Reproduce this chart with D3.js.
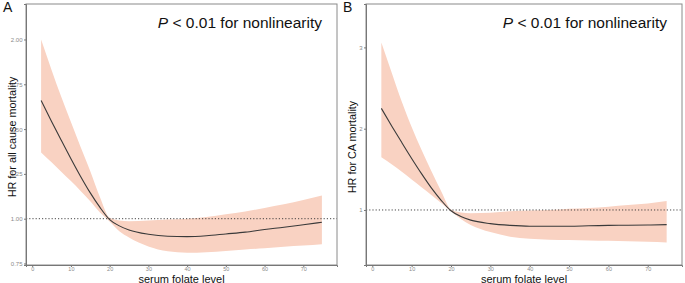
<!DOCTYPE html>
<html>
  <head>
    <meta charset="UTF-8" />
    <script src="https://d3js.org/d3.v7.min.js"></script>
    <style>
      body { margin: 0; background: #fff; }
      text { font-family: "Liberation Sans", Arial, sans-serif; }
    </style>
  </head>
  <body>
    <div id="my_dataviz"></div>

    <script>
      // serum folate level where the spline was sampled
      const folate = [2.3, 5, 7.5, 10, 12.5, 15, 17.5, 20, 22.5, 25, 30, 35, 40, 45, 50, 55, 60, 65, 70, 74.8];

      // panel A: all cause mortality
      const hrAll = [1.66, 1.543, 1.438, 1.335, 1.236, 1.144, 1.063, 0.995, 0.96, 0.937, 0.913, 0.902, 0.9, 0.905, 0.915, 0.925, 0.94, 0.952, 0.966, 0.98];
      const upAll = [2.0, 1.83, 1.68, 1.54, 1.4, 1.265, 1.12, 1.005, 0.99, 0.986, 0.99, 0.995, 1.0, 1.01, 1.025, 1.04, 1.06, 1.08, 1.105, 1.13];
      const loAll = [1.37, 1.315, 1.262, 1.21, 1.155, 1.097, 1.035, 0.985, 0.93, 0.895, 0.845, 0.818, 0.81, 0.813, 0.82, 0.828, 0.835, 0.843, 0.85, 0.857];

      // panel B: CA mortality
      const hrCA = [2.25, 2.028, 1.829, 1.634, 1.447, 1.272, 1.119, 0.99, 0.92, 0.875, 0.832, 0.81, 0.8, 0.8, 0.8, 0.805, 0.81, 0.812, 0.815, 0.82];
      const upCA = [3.06, 2.68, 2.33, 2.02, 1.74, 1.48, 1.23, 1.005, 0.97, 0.96, 0.965, 0.985, 0.995, 1.0, 1.015, 1.025, 1.04, 1.06, 1.08, 1.11];
      const loCA = [1.65, 1.56, 1.47, 1.375, 1.28, 1.185, 1.085, 0.98, 0.89, 0.815, 0.728, 0.672, 0.645, 0.635, 0.63, 0.625, 0.62, 0.615, 0.61, 0.6];

      const xTicks = [0, 10, 20, 30, 40, 50, 60, 70];
      const yTicksAll = [0.75, 1.0, 1.25, 1.5, 1.75, 2.0];
      const yTicksCA = [1, 2, 3];

      const width = 685, height = 283;

      var svg = d3
        .select("#my_dataviz")
        .append("svg")
        .attr("width", width)
        .attr("height", height);

      function drawPanel(opt) {
        var x = d3.scaleLinear().domain([-1.6, 78.7]).range([opt.left, opt.right]);
        var y = d3.scaleLinear().domain(opt.yDomain).range([265, 4]);
        var g = svg.append("g");

        var rows = folate.map((f, i) => ({ f: f, hr: opt.hr[i], up: opt.up[i], lo: opt.lo[i] }));

        // confidence band
        g.append("path")
          .datum(rows)
          .attr("fill", "#f9d2c2")
          .attr(
            "d",
            d3.area()
              .curve(d3.curveMonotoneX)
              .x((d) => x(d.f))
              .y0((d) => y(d.lo))
              .y1((d) => y(d.up))
          );

        // reference line at HR = 1
        g.append("line")
          .attr("x1", opt.left)
          .attr("x2", opt.right)
          .attr("y1", y(1))
          .attr("y2", y(1))
          .attr("stroke", "#333")
          .attr("stroke-width", 0.9)
          .attr("stroke-dasharray", "1.2,2");

        g.append("path")
          .datum(rows)
          .attr("fill", "none")
          .attr("stroke", "#3a3a3a")
          .attr("stroke-width", 1.1)
          .attr(
            "d",
            d3.line()
              .curve(d3.curveMonotoneX)
              .x((d) => x(d.f))
              .y((d) => y(d.hr))
          );

        // panel border
        g.append("rect")
          .attr("x", opt.left)
          .attr("y", 4)
          .attr("width", opt.right - opt.left)
          .attr("height", 261)
          .attr("fill", "none")
          .attr("stroke", "#8a8a8a")
          .attr("stroke-width", 1);

        var xAxis = g.append("g")
          .attr("transform", "translate(0,265)")
          .call(d3.axisBottom(x).tickValues(xTicks).tickSize(2).tickPadding(0));
        var yAxis = g.append("g")
          .attr("transform", "translate(" + opt.left + ",0)")
          .call(d3.axisLeft(y).tickValues(opt.yTicks).tickFormat(opt.fmt).tickSize(2).tickPadding(1.5));

        xAxis.selectAll(".tick text").style("font-size", "5.5px");
        yAxis.selectAll(".tick text").style("font-size", "6px");
        [xAxis, yAxis].forEach((a) => {
          a.select(".domain").attr("stroke", "#777");
          a.selectAll(".tick line").attr("stroke", "#777");
          a.selectAll(".tick text")
            .attr("fill", "#8a8a8a")
            .style("font-family", "Liberation Sans, Arial, sans-serif");
        });

        // labels
        svg.append("text")
          .attr("x", opt.left - 23)
          .attr("y", 12)
          .attr("font-size", 14)
          .attr("fill", "#111")
          .text(opt.tag);

        svg.append("text")
          .attr("transform", "translate(" + (opt.left - 10) + "," + opt.titleY + ") rotate(-90)")
          .attr("text-anchor", "middle")
          .attr("font-size", 10.8)
          .attr("fill", "#111")
          .text(opt.yTitle);

        svg.append("text")
          .attr("x", (opt.left + opt.right) / 2)
          .attr("y", 282.5)
          .attr("text-anchor", "middle")
          .attr("font-size", 11)
          .attr("fill", "#111")
          .text("serum folate level");

        var p = svg.append("text")
          .attr("x", opt.right - 15)
          .attr("y", 28)
          .attr("text-anchor", "end")
          .attr("font-size", 15.5)
          .attr("fill", "#111");
        p.append("tspan").attr("font-style", "italic").text("P");
        p.append("tspan").text(" < 0.01 for nonlinearity");
      }

      drawPanel({
        left: 26, right: 337, tag: "A", titleY: 137,
        yDomain: [0.7416, 2.198], yTicks: yTicksAll, fmt: d3.format(".2f"),
        hr: hrAll, up: upAll, lo: loAll,
        yTitle: "HR for all cause mortality"
      });

      drawPanel({
        left: 366, right: 682, tag: "B", titleY: 147,
        yDomain: [0.323, 3.534], yTicks: yTicksCA, fmt: d3.format("d"),
        hr: hrCA, up: upCA, lo: loCA,
        yTitle: "HR for CA mortality"
      });
    </script>
  </body>
</html>
